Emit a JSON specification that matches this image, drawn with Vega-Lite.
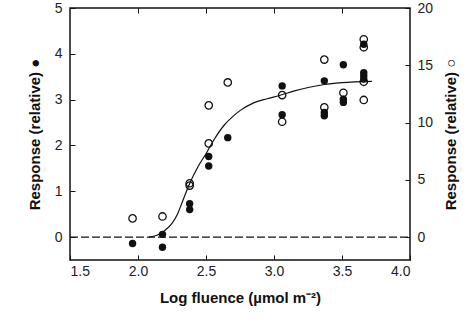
{
  "$schema": "https://vega.github.io/schema/vega-lite/v6.json",
  "autosize": {"type": "none"},
  "width": 340,
  "height": 252,
  "padding": {"left": 70, "top": 8, "right": 64, "bottom": 67},
  "background": "white",
  "config": {
    "view": {"stroke": "#111", "strokeWidth": 1.5},
    "axis": {
      "domain": false,
      "grid": false,
      "labelFont": "Liberation Sans",
      "labelFontSize": 14,
      "labelColor": "#222",
      "tickColor": "#111",
      "tickWidth": 1,
      "tickSize": -5,
      "titleFont": "Liberation Sans",
      "titleFontSize": 15,
      "titleFontWeight": "bold",
      "titleColor": "#111"
    }
  },
  "datasets": {
    "filled": [
      {"x": 1.96, "y": -0.14},
      {"x": 2.18, "y": 0.06},
      {"x": 2.18, "y": -0.22},
      {"x": 2.38, "y": 0.73},
      {"x": 2.38, "y": 0.6},
      {"x": 2.52, "y": 1.76},
      {"x": 2.52, "y": 1.55},
      {"x": 2.66, "y": 2.17},
      {"x": 3.06, "y": 3.3},
      {"x": 3.06, "y": 2.67},
      {"x": 3.37, "y": 3.41},
      {"x": 3.37, "y": 2.72},
      {"x": 3.37, "y": 2.65},
      {"x": 3.51, "y": 3.76},
      {"x": 3.51, "y": 3.01},
      {"x": 3.51, "y": 2.94},
      {"x": 3.66, "y": 4.21},
      {"x": 3.66, "y": 3.59},
      {"x": 3.66, "y": 3.52},
      {"x": 3.66, "y": 3.45}
    ],
    "open": [
      {"x": 1.96, "y": 1.63},
      {"x": 2.18, "y": 1.8},
      {"x": 2.38, "y": 4.7},
      {"x": 2.38, "y": 4.5},
      {"x": 2.52, "y": 8.18},
      {"x": 2.52, "y": 11.5},
      {"x": 2.66, "y": 13.5},
      {"x": 3.06, "y": 12.4},
      {"x": 3.06, "y": 10.07},
      {"x": 3.37, "y": 15.5},
      {"x": 3.37, "y": 11.33},
      {"x": 3.51, "y": 12.6},
      {"x": 3.66, "y": 17.27},
      {"x": 3.66, "y": 16.57},
      {"x": 3.66, "y": 13.56},
      {"x": 3.66, "y": 11.97}
    ],
    "curve": [
      {"x": 2.08, "y": 0},
      {"x": 2.14, "y": 0.04},
      {"x": 2.2, "y": 0.15},
      {"x": 2.25, "y": 0.3},
      {"x": 2.29, "y": 0.5},
      {"x": 2.33, "y": 0.8},
      {"x": 2.38, "y": 1.17},
      {"x": 2.44, "y": 1.53},
      {"x": 2.5, "y": 1.82},
      {"x": 2.56, "y": 2.13},
      {"x": 2.63, "y": 2.43},
      {"x": 2.7, "y": 2.64},
      {"x": 2.75, "y": 2.76},
      {"x": 2.85, "y": 2.93},
      {"x": 2.95, "y": 3.02},
      {"x": 3.04, "y": 3.09},
      {"x": 3.15, "y": 3.19},
      {"x": 3.26, "y": 3.27},
      {"x": 3.37, "y": 3.33},
      {"x": 3.5, "y": 3.37},
      {"x": 3.72, "y": 3.4}
    ],
    "zero": [
      {"x": 1.5, "y": 0},
      {"x": 4.0, "y": 0}
    ]
  },
  "layer": [
    {
      "layer": [
        {
          "data": {"name": "zero"},
          "mark": {"type": "line", "color": "#111", "strokeWidth": 1.2, "strokeDash": [8, 3]},
          "encoding": {
            "x": {"field": "x", "type": "quantitative",
                  "scale": {"domain": [1.5, 4.0], "nice": false, "zero": false},
                  "axis": {"orient": "bottom", "values": [1.5, 2.0, 2.5, 3.0, 3.5, 4.0], "format": ".1f", "labelPadding": 9,
                           "title": "Log fluence (µmol m⁻²)", "titlePadding": 12}},
            "y": {"field": "y", "type": "quantitative",
                  "scale": {"domain": [-0.5, 5], "nice": false, "zero": false},
                  "axis": {"orient": "left", "values": [0, 1, 2, 3, 4, 5], "labelPadding": 13,
                           "title": "Response (relative) ●", "titlePadding": 12}}
          }
        },
        {
          "data": {"name": "curve"},
          "mark": {"type": "line", "color": "#111", "strokeWidth": 1.2, "interpolate": "monotone"},
          "encoding": {
            "x": {"field": "x", "type": "quantitative"},
            "y": {"field": "y", "type": "quantitative"}
          }
        },
        {
          "data": {"name": "filled"},
          "mark": {"type": "point", "shape": "circle", "filled": true, "color": "#111", "opacity": 1, "size": 55},
          "encoding": {
            "x": {"field": "x", "type": "quantitative"},
            "y": {"field": "y", "type": "quantitative"}
          }
        }
      ]
    },
    {
      "data": {"name": "open"},
      "mark": {"type": "point", "shape": "circle", "filled": false, "color": "#111", "opacity": 1, "strokeWidth": 1.3, "size": 55},
      "encoding": {
        "x": {"field": "x", "type": "quantitative",
              "axis": {"orient": "top", "values": [2.0, 2.5, 3.0, 3.5], "labels": false, "title": null}},
        "y": {"field": "y", "type": "quantitative",
              "scale": {"domain": [-2, 20], "nice": false, "zero": false},
              "axis": {"orient": "right", "values": [0, 5, 10, 15, 20], "labelPadding": 12,
                       "title": "Response (relative) ○", "titleAngle": 270, "titlePadding": 26}}
      }
    }
  ],
  "resolve": {"scale": {"y": "independent"}, "axis": {"x": "independent"}}
}
